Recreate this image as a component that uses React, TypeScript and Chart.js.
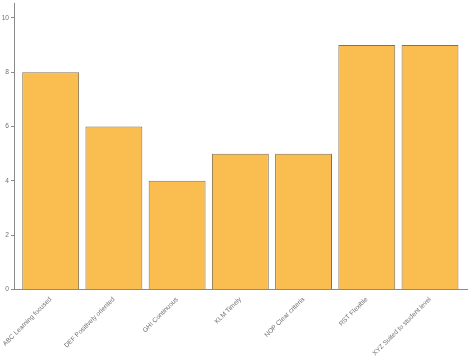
import React, { useEffect, useRef } from "react";
import { Chart, registerables } from "chart.js";

Chart.register(...registerables);

const categories: string[] = [
  "ABC Learning focused",
  "DEF Positively oriented",
  "GHI Continuous",
  "KLM Timely",
  "NOP Clear criteria",
  "RST Flexible",
  "XYZ Suited to student level",
];
const values: number[] = [8, 6, 4, 5, 5, 9, 9];
const yTicks: number[] = [0, 2, 4, 6, 8, 10];

export default function App() {
  const ref = useRef<HTMLCanvasElement | null>(null);

  useEffect(() => {
    document.body.style.margin = "0";
    const ctx = ref.current;
    if (!ctx) return;
    const font = { family: "'Liberation Sans', Arial, sans-serif", size: 6.6 };
    const chart = new Chart(ctx, {
      type: "bar",
      data: {
        datasets: [
          {
            data: values.map((v, i) => ({ x: i, y: v })),
            backgroundColor: "#f9bd50",
            borderColor: "#85714c",
            borderWidth: 1,
            barPercentage: 0.9,
            categoryPercentage: 1,
          },
        ],
      },
      options: {
        responsive: false,
        animation: false,
        layout: { padding: { top: 3, right: 7, left: 0, bottom: 0 } },
        plugins: { legend: { display: false }, tooltip: { enabled: false } },
        scales: {
          x: {
            type: "linear",
            offset: false,
            min: -0.58,
            max: 6.585,
            grid: { display: true, drawOnChartArea: false, drawTicks: false },
            border: { display: true, color: "#8a8a8a", width: 1 },
            ticks: {
              stepSize: 1,
              includeBounds: false,
              autoSkip: false,
              minRotation: 45,
              maxRotation: 45,
              padding: 6,
              color: "#707070",
              font,
              callback: (v: any) => categories[v as number] ?? "",
            },
            afterFit: (s: any) => {
              s.height = 72.5;
              s.paddingLeft = 0;
              s.paddingRight = 0;
            },
          },
          y: {
            min: 0,
            max: 10.55,
            grid: { display: true, drawOnChartArea: false, drawTicks: true, tickLength: 3, color: "#8a8a8a" },
            border: { display: true, color: "#8a8a8a", width: 1 },
            afterBuildTicks: (s: any) => {
              s.ticks = yTicks.map((v) => ({ value: v }));
            },
            ticks: {
              padding: 2,
              color: "#707070",
              font,
            },
            afterFit: (s: any) => {
              s.width = 14;
              s.paddingTop = 0;
              s.paddingBottom = 0;
            },
          },
        },
      },
    });
    return () => chart.destroy();
  }, []);

  return (
    <div style={{ width: 474, height: 362 }}>
      <canvas ref={ref} width={474} height={362} />
    </div>
  );
}
